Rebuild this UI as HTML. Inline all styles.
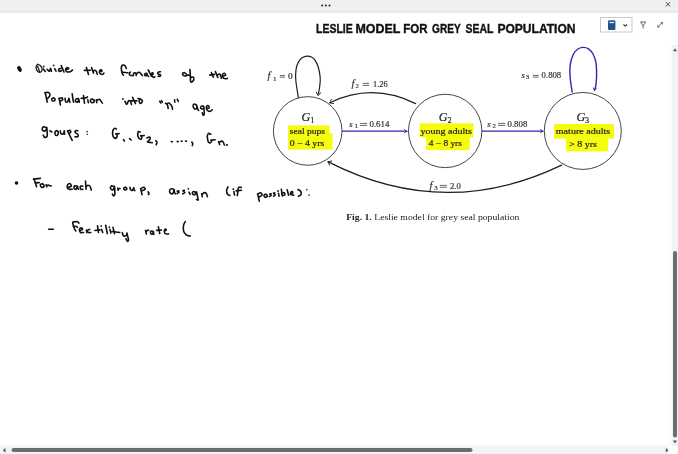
<!DOCTYPE html>
<html><head><meta charset="utf-8">
<style>
html,body{margin:0;padding:0;width:678px;height:454px;overflow:hidden;background:#fff;font-family:"Liberation Sans",sans-serif;}
#top{position:absolute;left:0;top:0;width:678px;height:9px;background:#efefef;}
#top2{position:absolute;left:0;top:9px;width:678px;height:1.2px;background:#f4f4f4;}
#top3{position:absolute;left:0;top:10.2px;width:678px;height:3px;background:linear-gradient(#ededed,#e6e6e6 70%,#f6f6f6);}
svg{position:absolute;left:0;top:0;will-change:transform;}
</style></head>
<body>
<div id="top"></div><div id="top2"></div><div id="top3"></div>
<svg width="678" height="454" viewBox="0 0 678 454">
  <!-- top dots and close -->
  <g fill="#222">
    <circle cx="322.2" cy="5.6" r="1"/><circle cx="325.9" cy="5.6" r="1"/><circle cx="329.5" cy="5.6" r="1"/>
  </g>
  <path d="M665.8,2.2 L670,6.4 M670,2.2 L665.8,6.4" stroke="#444" stroke-width="1" fill="none"/>

  <!-- title -->
<g font-family="Liberation Sans" font-weight="bold" font-size="11.6" fill="#111" stroke="#111" stroke-width="0.35" transform="translate(0,32.8) scale(1,1.14) translate(0,-32.8)"><text x="316.0" y="32.8" textLength="36.7" lengthAdjust="spacingAndGlyphs">LESLIE</text><text x="355.5" y="32.8" textLength="44.9" lengthAdjust="spacingAndGlyphs">MODEL</text><text x="403.2" y="32.8" textLength="24.3" lengthAdjust="spacingAndGlyphs">FOR</text><text x="432.1" y="32.8" textLength="28.5" lengthAdjust="spacingAndGlyphs">GREY</text><text x="465.5" y="32.8" textLength="27.9" lengthAdjust="spacingAndGlyphs">SEAL</text><text x="497.4" y="32.8" textLength="78.1" lengthAdjust="spacingAndGlyphs">POPULATION</text></g>

  <!-- widget -->
  <rect x="600.5" y="17.5" width="31.5" height="14.5" fill="#fff" stroke="#c9c9c9" stroke-width="1"/>
  <rect x="608" y="20.3" width="7.4" height="9.6" rx="1.2" fill="#1f5285"/>
  <rect x="609.3" y="21.8" width="4.8" height="1.4" fill="#cfe3f3"/>
  <path d="M623.5,24.5 L625.3,26.1 L627.1,24.5" stroke="#333" stroke-width="1.15" fill="none"/>
  <!-- funnel -->
  <path d="M640.5,21.9 H645.7 L643.1,26 Z M643.1,26 V28.5" stroke="#6a6a6a" stroke-width="1" fill="none" stroke-linejoin="round"/>
  <!-- expand -->
  <path d="M657.6,27.2 L662.6,22.2" stroke="#777" stroke-width="1"/>
  <path d="M657.3,24.6 L657.3,27.5 L660.2,27.5 Z M660,22 L662.9,22 L662.9,24.9 Z" fill="#777"/>

  <!-- DIAGRAM -->
  <g fill="none" stroke="#444" stroke-width="1">
<circle cx="307.7" cy="130.95" r="34.3"/>
<circle cx="445.2" cy="130.95" r="36.7"/>
<circle cx="582.8" cy="130.95" r="38.5"/>
</g>
<g fill="#f6fc0e">
<rect x="288" y="125.4" width="41.5" height="11.8"/>
<rect x="288" y="133.2" width="44.4" height="16.4"/>
<rect x="419.7" y="123.3" width="53.7" height="14"/>
<rect x="426.2" y="137" width="43.5" height="13.1"/>
<rect x="554" y="123.9" width="60" height="14.8"/>
<rect x="565.9" y="138.5" width="42.3" height="12.9"/>
</g>
<g font-family="Liberation Serif" fill="#222" stroke="#222" stroke-width="0.2">
<text x="301.6" y="121" font-size="12.2" font-style="italic">G</text>
<text x="310.5" y="122.7" font-size="7.6">1</text>
<text x="438.8" y="121" font-size="12.2" font-style="italic">G</text>
<text x="447.7" y="122.7" font-size="7.6">2</text>
<text x="576.4" y="121" font-size="12.2" font-style="italic">G</text>
<text x="585.3" y="122.7" font-size="7.6">3</text>
<text x="289.8" y="133.9" font-size="9" textLength="35.3" lengthAdjust="spacingAndGlyphs">seal pups</text>
<text x="289.8" y="146.2" font-size="9" textLength="34.4" lengthAdjust="spacingAndGlyphs">0 − 4 yrs</text>
<text x="420.5" y="133.9" font-size="9" textLength="51.5" lengthAdjust="spacingAndGlyphs">young adults</text>
<text x="428.8" y="146.4" font-size="9" textLength="33" lengthAdjust="spacingAndGlyphs">4 − 8 yrs</text>
<text x="555.8" y="133.9" font-size="9" textLength="54.5" lengthAdjust="spacingAndGlyphs">mature adults</text>
<text x="569" y="146.6" font-size="9" textLength="28" lengthAdjust="spacingAndGlyphs">&gt; 8 yrs</text>
</g>
<g font-family="Liberation Serif" fill="#333" stroke="#333" stroke-width="0.2">
<text x="267.6" y="79.3" font-size="10.6" font-style="italic">f</text>
<text x="272.9" y="80.6" font-size="6.9">1</text>
<text x="287.9" y="79.3" font-size="8.8" textLength="4.7000000000000455" lengthAdjust="spacingAndGlyphs">0</text>
<text x="351.5" y="86.8" font-size="10.6" font-style="italic">f</text>
<text x="355.6" y="88.1" font-size="6.9">2</text>
<text x="373" y="86.8" font-size="8.8" textLength="14.600000000000023" lengthAdjust="spacingAndGlyphs">1.26</text>
<text x="349.2" y="126.7" font-size="8.8" font-style="italic">s</text>
<text x="354.4" y="128.0" font-size="6.9">1</text>
<text x="369.4" y="126.7" font-size="8.8" textLength="20.100000000000023" lengthAdjust="spacingAndGlyphs">0.614</text>
<text x="487.3" y="126.7" font-size="8.8" font-style="italic">s</text>
<text x="492.5" y="128.0" font-size="6.9">2</text>
<text x="507.5" y="126.7" font-size="8.8" textLength="19.799999999999955" lengthAdjust="spacingAndGlyphs">0.808</text>
<text x="521.5" y="77.8" font-size="8.8" font-style="italic">s</text>
<text x="525.8" y="79.1" font-size="6.9">3</text>
<text x="541.6" y="77.8" font-size="8.8" textLength="19.600000000000023" lengthAdjust="spacingAndGlyphs">0.808</text>
<text x="429.6" y="188.9" font-size="10.6" font-style="italic">f</text>
<text x="434.3" y="190.20000000000002" font-size="6.9">3</text>
<text x="449.9" y="188.9" font-size="8.8" textLength="10.900000000000034" lengthAdjust="spacingAndGlyphs">2.0</text>
</g>
<g stroke="#333" stroke-width="0.75">
<path d="M279.8,75.5H285.0M279.8,77.2H285.0"/>
<path d="M362.8,83.4H369.0M362.8,85.4H369.0"/>
<path d="M360.0,123.4H367.1M360.0,125.4H367.1"/>
<path d="M498.0,123.4H505.1M498.0,125.4H505.1"/>
<path d="M532.8,75.4H538.7M532.8,77.1H538.7"/>
<path d="M439.9,185.4H446.9M439.9,187.3H446.9"/>
</g>
<text x="346.2" y="219.6" font-family="Liberation Serif" font-size="7.8" fill="#222" textLength="173.2" lengthAdjust="spacingAndGlyphs"><tspan font-weight="bold">Fig. 1.</tspan> Leslie model for grey seal population</text>
<g stroke="#3224b4" stroke-width="1.4" fill="none">
<path d="M342,131.15 L404.5,131.15"/>
<path d="M482,131.15 L540.5,131.15"/>
<path d="M572.3,92.6C571.9,90.2 570.6,82.5 570.2,78.0C569.8,73.5 569.6,69.8 570.1,65.8C570.6,61.8 572.0,57.0 573.3,54.2C574.6,51.4 576.4,50.1 578.0,49.0C579.6,47.9 581.4,47.4 583.1,47.4C584.9,47.4 586.9,47.7 588.5,48.8C590.1,49.9 591.8,51.8 593.0,54.0C594.2,56.2 595.3,58.7 595.9,62.3C596.5,65.9 596.6,71.8 596.6,75.4C596.6,79.0 596.2,81.8 596.0,84.0C595.8,86.2 595.3,87.8 595.2,88.5"/>
</g>
<path d="M408.20,131.15L403.80,133.25L404.90,131.15L403.80,129.05Z" fill="#3224b4"/>
<path d="M544.20,131.15L539.80,133.25L540.90,131.15L539.80,129.05Z" fill="#3224b4"/>
<path d="M594.40,91.60L592.65,87.19L594.73,88.47L597.03,87.65Z" fill="#3224b4"/>
<g stroke="#1e1e1e" stroke-width="1.2" fill="none" stroke-linecap="round">
<path d="M415.6,103.6 Q372.5,82.3 330,102.7"/>
<path d="M561.6,165.1 Q444.5,221.3 328.3,161.9"/>
<path d="M298.3,97.3C297.9,94.9 296.6,86.7 296.1,83.0C295.7,79.3 295.5,78.0 295.6,75.3C295.7,72.5 295.9,69.1 296.6,66.5C297.3,63.9 298.8,61.5 299.9,59.9C301.0,58.3 302.2,57.6 303.5,57.0C304.8,56.4 306.3,56.1 307.6,56.1C308.9,56.1 310.3,56.4 311.5,57.0C312.7,57.6 313.5,58.0 314.6,59.6C315.7,61.2 317.2,63.5 318.1,66.5C319.0,69.5 319.9,74.2 320.2,77.5C320.5,80.8 320.0,83.5 319.7,86.3C319.4,89.0 318.6,92.7 318.4,94.0"/>
</g>
<path d="M331.28,99.44Q330.30,101.95 329.60,103.00Q330.86,102.96 333.51,103.46" fill="none" stroke="#1e1e1e" stroke-width="1.0" stroke-linecap="round"/>
<path d="M331.71,161.07Q329.06,161.62 327.80,161.60Q328.52,162.63 329.55,165.13" fill="none" stroke="#1e1e1e" stroke-width="1.0" stroke-linecap="round"/>
<path d="M316.27,92.11Q317.69,94.41 318.10,95.60Q318.83,94.57 320.82,92.75" fill="none" stroke="#1e1e1e" stroke-width="1.0" stroke-linecap="round"/>
  <g fill="none" stroke="#111" stroke-width="1.6" stroke-linecap="round" stroke-linejoin="round">
<path d="M43.4,69.0L45.3,71.5"/>
<path d="M47.2,69.3C47.6,69.6 48.7,71.5 49.3,71.3C49.9,71.1 50.2,68.3 50.6,68.3C51.0,68.3 51.3,70.8 51.4,71.3"/>
<path d="M54.7,68.7L56.0,71.2"/>
<path d="M61.0,68.5C60.7,68.5 59.6,68.3 59.2,68.6C58.8,68.9 58.6,70.0 58.7,70.5C58.8,71.0 59.3,71.4 59.8,71.4C60.3,71.4 61.5,70.7 61.8,70.6"/>
<path d="M61.2,65.5L64.0,72.0"/>
<path d="M66.0,69.3C66.5,69.2 68.5,69.2 68.7,68.9C69.0,68.6 68.0,67.5 67.5,67.5C67.0,67.5 65.7,68.5 65.6,69.2C65.5,69.9 66.0,71.3 66.8,71.7C67.6,72.1 69.2,72.0 70.2,71.7C71.2,71.4 72.1,70.3 72.5,70.0"/>
<path d="M84.3,70.4L90.6,70.2"/>
<path d="M86.4,67.4L88.5,74.5"/>
<path d="M91.6,67.6L93.5,73.1"/>
<path d="M93.3,71.2C93.5,71.0 94.3,70.2 94.8,70.2C95.3,70.2 95.8,70.5 96.2,71.2C96.6,71.9 97.1,73.8 97.3,74.3"/>
<path d="M100.0,71.6C100.3,71.5 101.7,71.5 101.9,71.2C102.1,70.9 101.6,70.0 101.2,69.9C100.8,69.8 99.8,70.2 99.6,70.8C99.4,71.4 99.5,72.9 100.0,73.5C100.5,74.1 102.0,74.4 102.7,74.3C103.4,74.2 103.7,73.3 103.9,73.1"/>
<path d="M126.3,68.4C126.1,68.0 125.5,66.2 125.0,65.7C124.5,65.2 123.6,65.0 123.0,65.1C122.4,65.2 121.8,65.6 121.5,66.5C121.2,67.4 121.3,69.0 121.5,70.3C121.7,71.5 122.2,73.2 122.5,74.0C122.8,74.8 123.2,75.0 123.4,75.2"/>
<path d="M122.1,72.3L127.9,72.7"/>
<path d="M130.4,72.1C130.2,72.3 129.4,72.7 129.3,73.2C129.2,73.7 129.6,74.8 130.0,75.2C130.4,75.6 131.7,75.5 132.0,75.6"/>
<path d="M133.3,75.6C133.4,75.2 133.3,73.9 133.6,73.4C133.8,72.9 134.4,72.7 134.8,72.7C135.2,72.7 135.8,73.1 136.0,73.6C136.2,74.1 136.0,75.6 136.2,75.6C136.4,75.5 136.5,73.8 137.0,73.3C137.5,72.8 138.6,72.2 139.3,72.3C140.0,72.4 140.6,73.5 141.1,74.0C141.6,74.5 142.2,75.3 142.4,75.6"/>
<path d="M146.8,73.3C146.5,73.3 145.4,73.2 145.1,73.5C144.8,73.8 144.6,74.9 144.8,75.3C145.0,75.7 145.8,75.9 146.2,75.7C146.6,75.5 146.9,74.0 147.1,74.0C147.3,74.0 147.3,75.1 147.6,75.5C147.8,75.9 148.4,76.2 148.6,76.4"/>
<path d="M148.2,70.0C148.5,70.5 149.3,72.0 149.8,73.0C150.3,74.0 151.1,75.4 151.3,75.9"/>
<path d="M151.7,74.8C151.9,74.7 152.8,74.5 153.0,74.2C153.2,73.9 153.1,72.9 152.8,72.8C152.6,72.7 151.7,73.0 151.5,73.5C151.3,74.0 151.4,75.1 151.7,75.7C152.0,76.3 153.0,77.1 153.5,77.3C154.0,77.5 154.6,76.9 154.8,76.8"/>
<path d="M160.5,71.7C160.2,71.8 159.3,71.7 158.8,72.0C158.3,72.3 157.7,72.9 157.7,73.3C157.7,73.7 158.3,74.2 158.8,74.4C159.3,74.7 160.3,74.5 160.5,74.8C160.7,75.1 160.5,76.2 160.1,76.4C159.7,76.6 158.4,76.2 158.1,76.2"/>
<path d="M184.5,72.7C184.2,72.8 182.8,72.8 182.6,73.3C182.4,73.8 182.8,75.0 183.3,75.4C183.8,75.8 185.2,76.0 185.8,75.9C186.4,75.8 187.2,75.1 187.0,74.6C186.8,74.1 184.9,73.0 184.5,72.7"/>
<path d="M186.8,75.2L189.9,75.2"/>
<path d="M189.9,69.6C190.0,70.5 190.2,73.0 190.3,75.0C190.4,77.0 190.2,81.0 190.7,81.9C191.2,82.8 192.9,81.3 193.4,80.5C193.9,79.7 194.0,77.8 193.5,77.3C193.0,76.8 190.8,77.5 190.2,77.5"/>
<path d="M209.8,75.1L214.6,74.4"/>
<path d="M211.4,72.6L213.4,77.1"/>
<path d="M215.4,71.6L217.8,77.5"/>
<path d="M217.4,75.1C217.7,74.9 218.9,73.9 219.4,74.0C219.9,74.1 220.3,74.9 220.6,75.6C220.9,76.3 221.3,77.8 221.4,78.3"/>
<path d="M222.6,75.9C223.1,75.8 225.3,75.7 225.6,75.3C225.9,74.9 224.9,73.4 224.4,73.3C223.9,73.2 222.5,74.0 222.3,74.7C222.1,75.5 222.7,77.1 223.2,77.8C223.7,78.5 224.8,78.7 225.5,78.8C226.2,78.9 227.1,78.4 227.4,78.3"/>
<path d="M45.3,93.2C45.5,93.9 46.0,96.1 46.3,97.6C46.6,99.1 47.1,101.4 47.2,102.2"/>
<path d="M44.8,92.7C45.4,92.7 47.7,92.1 48.6,92.5C49.5,92.9 50.1,94.3 50.0,95.3C49.9,96.3 48.1,97.9 47.7,98.4"/>
<path d="M53.5,97.9C53.2,98.0 52.0,98.1 51.8,98.6C51.6,99.0 51.8,100.2 52.2,100.6C52.7,101.0 54.0,101.0 54.5,100.8C55.0,100.5 55.2,99.6 55.0,99.1C54.8,98.6 53.8,98.1 53.5,97.9"/>
<path d="M59.0,98.4C59.1,99.0 59.6,100.7 59.8,101.8C60.0,102.9 60.3,104.5 60.4,105.0"/>
<path d="M59.5,98.6C59.9,98.5 61.5,97.6 62.0,97.8C62.5,98.0 63.0,99.2 62.6,99.8C62.2,100.4 60.4,101.0 59.9,101.2"/>
<path d="M65.1,98.4C65.2,98.9 65.2,100.9 65.6,101.5C66.0,102.1 66.9,102.5 67.4,102.0C68.0,101.5 68.6,98.7 68.9,98.4C69.2,98.2 69.2,99.9 69.4,100.5C69.6,101.1 69.8,101.9 69.9,102.2"/>
<path d="M72.2,93.7C72.3,94.5 72.6,97.1 72.8,98.5C73.0,99.9 73.5,101.6 73.6,102.2"/>
<path d="M78.4,98.6C78.0,98.6 76.7,98.3 76.2,98.8C75.7,99.2 75.3,100.8 75.5,101.3C75.7,101.8 77.0,102.4 77.6,102.0C78.1,101.6 78.5,99.1 78.8,99.1C79.1,99.1 79.2,101.7 79.3,102.2"/>
<path d="M83.5,95.6C83.6,96.2 83.8,98.2 84.0,99.5C84.2,100.8 84.4,102.5 84.5,103.1"/>
<path d="M81.2,98.4L86.4,97.9"/>
<path d="M87.8,99.8L88.3,102.6"/>
<path d="M92.3,99.0C92.0,99.1 90.8,99.3 90.6,99.8C90.4,100.3 90.5,101.8 91.0,102.2C91.5,102.7 92.7,102.7 93.3,102.5C93.9,102.3 94.6,101.4 94.4,100.8C94.2,100.2 92.7,99.3 92.3,99.0"/>
<path d="M96.3,99.8L96.8,102.6"/>
<path d="M97.0,100.3C97.4,100.1 98.7,99.1 99.4,99.3C100.1,99.5 100.5,100.6 101.0,101.2C101.5,101.8 102.2,102.8 102.4,103.1"/>
<path d="M125.0,101.3L126.5,104.4"/>
<path d="M127.5,103.6C127.6,103.2 127.8,101.8 128.1,101.3C128.4,100.8 128.9,100.6 129.3,100.6C129.7,100.6 130.0,100.7 130.4,101.3C130.8,101.9 131.3,103.9 131.5,104.4"/>
<path d="M132.5,97.3C132.8,97.8 133.5,99.5 134.0,100.5C134.5,101.5 135.2,103.1 135.5,103.6"/>
<path d="M131.1,100.9L136.9,100.9"/>
<path d="M138.0,98.6C138.4,98.7 139.7,98.6 140.4,99.0C141.1,99.4 142.3,100.5 142.4,101.2C142.5,101.9 141.3,103.3 140.8,103.4C140.3,103.5 139.4,102.4 139.2,101.8C139.0,101.2 139.5,100.0 139.6,99.6"/>
<path d="M159.6,101.3L160.9,103.0"/>
<path d="M161.4,100.6L162.3,102.2"/>
<path d="M165.5,103.4C165.8,103.6 166.8,103.8 167.2,104.3C167.6,104.8 167.6,105.8 167.8,106.5C168.0,107.2 168.1,108.1 168.2,108.4"/>
<path d="M166.8,103.8C167.1,103.7 168.1,102.8 168.8,103.0C169.5,103.2 170.3,104.0 170.9,104.7C171.5,105.4 171.9,106.2 172.2,107.0C172.5,107.8 172.4,108.8 172.5,109.2"/>
<path d="M174.6,99.7L174.8,102.2"/>
<path d="M177.3,99.3L178.3,101.4"/>
<path d="M195.9,104.6C195.5,104.5 194.1,103.8 193.7,104.2C193.2,104.6 193.0,106.0 193.2,106.8C193.4,107.6 194.1,108.7 194.7,108.9C195.3,109.1 196.5,108.7 196.8,108.1C197.1,107.5 196.5,105.0 196.6,105.1C196.7,105.2 197.2,107.6 197.5,108.5C197.8,109.4 198.4,110.2 198.6,110.5"/>
<path d="M203.4,106.1C203.0,106.1 201.5,105.8 201.1,106.2C200.7,106.6 200.5,108.0 200.8,108.4C201.2,108.8 202.7,108.9 203.2,108.6C203.7,108.3 203.5,106.3 203.7,106.6C203.8,106.9 204.0,109.2 204.1,110.5C204.2,111.8 204.4,113.4 204.2,114.2C204.0,115.0 203.3,115.4 203.0,115.2C202.7,115.0 202.4,113.2 202.3,112.8"/>
<path d="M206.5,108.1C206.9,108.1 208.8,108.5 209.1,108.1C209.4,107.7 209.0,106.2 208.6,105.9C208.2,105.6 207.2,105.5 206.8,106.0C206.5,106.5 206.2,108.2 206.5,109.0C206.8,109.8 207.6,110.8 208.3,111.1C209.0,111.4 210.2,111.3 210.8,111.1C211.5,110.9 212.0,110.1 212.2,109.9"/>
<path d="M46.0,127.6C45.7,127.5 44.8,126.9 44.3,126.9C43.8,126.9 43.0,126.9 42.7,127.4C42.4,127.9 42.0,129.4 42.4,130.0C42.8,130.6 44.1,131.2 44.8,131.1C45.4,131.0 46.0,129.9 46.3,129.3C46.6,128.7 46.7,127.0 46.8,127.4C46.9,127.8 47.0,130.1 47.1,131.5C47.2,132.9 47.4,135.0 47.2,136.0C47.0,137.0 46.3,137.1 45.8,137.3C45.3,137.5 44.7,137.5 44.3,137.1C43.9,136.7 43.4,135.4 43.2,135.1"/>
<path d="M49.9,130.8L51.9,132.0"/>
<path d="M56.7,130.7C56.5,130.8 55.5,130.9 55.2,131.6C55.0,132.2 54.9,133.9 55.2,134.6C55.5,135.2 56.3,135.6 56.8,135.5C57.3,135.4 57.9,134.8 58.1,134.2C58.3,133.5 58.2,132.2 58.0,131.6C57.8,131.0 56.9,130.8 56.7,130.7"/>
<path d="M60.3,130.8C60.3,131.2 60.4,132.4 60.6,132.9C60.8,133.4 61.1,133.8 61.6,134.0C62.1,134.2 63.0,134.3 63.4,133.8C63.8,133.3 64.1,130.9 64.3,130.8C64.5,130.7 64.3,132.4 64.4,133.0C64.5,133.6 64.7,134.1 64.7,134.3"/>
<path d="M67.5,130.8C67.9,131.6 69.0,133.9 69.8,135.5C70.6,137.1 71.8,139.5 72.2,140.3"/>
<path d="M67.9,131.2C68.2,131.0 69.3,130.1 69.8,130.3C70.3,130.5 71.0,131.8 70.8,132.3C70.6,132.8 69.0,133.3 68.7,133.5"/>
<path d="M77.8,130.8C77.4,130.8 76.0,130.4 75.6,130.7C75.2,131.0 74.8,132.0 75.2,132.6C75.6,133.2 77.4,133.7 77.8,134.4C78.2,135.1 78.3,136.3 77.8,136.7C77.3,137.1 75.5,136.7 75.0,136.7"/>
<path d="M116.4,128.9C116.1,128.8 115.1,128.2 114.5,128.4C113.9,128.7 113.2,129.6 112.9,130.4C112.6,131.2 112.6,132.5 112.6,133.5C112.6,134.5 112.6,135.4 113.0,136.2C113.4,137.0 114.2,138.1 114.8,138.3C115.4,138.5 116.2,138.2 116.6,137.5C117.0,136.8 117.2,135.0 117.1,134.4C117.0,133.8 116.2,133.9 116.0,133.8"/>
<path d="M116.0,134.0L119.1,133.6"/>
<path d="M123.5,139.5L124.3,141.1"/>
<path d="M129.5,138.7L131.1,139.9"/>
<path d="M140.2,132.0C139.9,131.9 138.8,131.2 138.4,131.5C138.0,131.8 137.8,133.2 137.7,134.0C137.6,134.8 137.8,135.5 138.0,136.3C138.2,137.1 138.6,138.2 139.2,138.7C139.8,139.1 140.9,139.4 141.3,139.0C141.7,138.6 141.7,136.8 141.8,136.3"/>
<path d="M140.6,135.9L144.2,135.5"/>
<path d="M147.0,137.9C147.4,137.8 148.7,137.1 149.2,137.0C149.7,136.9 150.1,137.1 150.2,137.6C150.3,138.1 150.1,139.1 149.6,139.8C149.1,140.5 147.3,141.5 147.4,141.9C147.5,142.3 149.2,142.3 150.0,142.4C150.8,142.5 151.8,142.6 152.2,142.7"/>
<path d="M155.8,140.7C156.0,140.9 156.9,141.5 157.0,142.2C157.1,142.9 156.3,144.3 156.2,144.7"/>
<path d="M171.3,141.6L172.3,141.7"/>
<path d="M177.2,141.6L178.2,141.6"/>
<path d="M181.2,141.2L182.1,141.1"/>
<path d="M185.5,141.2L186.5,141.1"/>
<path d="M191.8,142.1C192.0,142.3 192.7,143.0 192.8,143.6C192.9,144.2 192.4,145.2 192.3,145.5"/>
<path d="M210.8,134.3C210.4,134.2 209.1,133.2 208.5,133.4C207.9,133.6 207.6,134.8 207.4,135.5C207.2,136.2 207.2,136.7 207.4,137.8C207.6,138.9 207.8,141.1 208.4,141.9C209.0,142.7 210.2,142.9 210.8,142.6C211.4,142.3 211.6,140.6 211.8,140.2"/>
<path d="M210.8,140.2L215.2,139.7"/>
<path d="M218.6,141.6L219.6,144.6"/>
<path d="M219.5,142.2C219.9,142.0 221.1,141.0 221.8,141.1C222.5,141.2 223.1,141.9 223.5,142.6C223.9,143.2 224.2,144.6 224.4,145.0"/>
<path d="M33.5,179.1L40.4,178.4"/>
<path d="M34.1,179.1C34.3,179.8 35.0,181.7 35.4,183.0C35.8,184.3 36.4,186.1 36.6,186.7"/>
<path d="M35.4,182.9L39.2,182.6"/>
<path d="M42.3,183.6C42.0,183.7 40.7,183.9 40.5,184.4C40.3,184.9 40.5,186.3 41.0,186.8C41.5,187.3 42.8,187.4 43.3,187.2C43.8,187.0 44.2,186.0 44.0,185.4C43.8,184.8 42.6,183.9 42.3,183.6"/>
<path d="M46.1,184.8L46.8,186.7"/>
<path d="M46.5,185.6C46.8,185.5 48.0,185.1 48.5,185.1C49.0,185.1 49.1,185.5 49.6,185.7C50.1,185.8 50.9,185.9 51.2,186.0"/>
<path d="M68.3,187.3C68.8,187.1 71.0,186.8 71.3,186.2C71.5,185.6 70.4,183.8 69.8,183.6C69.2,183.4 67.8,184.3 67.4,185.1C67.1,185.9 67.3,187.7 67.7,188.4C68.1,189.1 69.2,189.3 70.0,189.4C70.8,189.5 71.8,189.2 72.2,189.2"/>
<path d="M77.2,186.1C76.8,186.1 75.1,185.5 74.6,185.8C74.1,186.2 73.8,187.6 74.0,188.2C74.2,188.8 75.4,189.6 76.0,189.3C76.6,189.0 77.2,186.3 77.5,186.2C77.8,186.0 77.6,187.9 77.8,188.4C78.0,188.9 78.4,189.1 78.5,189.2"/>
<path d="M82.9,186.2C82.6,186.2 81.2,185.7 80.8,186.0C80.3,186.3 80.1,187.4 80.2,188.0C80.3,188.6 80.8,189.2 81.3,189.4C81.8,189.6 82.6,189.2 82.9,189.2"/>
<path d="M85.5,181.0C85.5,181.7 85.7,183.6 85.8,185.0C85.9,186.4 86.0,188.5 86.1,189.2"/>
<path d="M86.1,186.7C86.4,186.5 87.5,185.3 88.2,185.3C88.9,185.3 89.7,185.8 90.2,186.6C90.7,187.4 91.0,189.3 91.2,189.9"/>
<path d="M113.4,186.3C113.1,186.2 112.0,185.5 111.5,185.8C111.0,186.2 110.2,187.7 110.4,188.4C110.6,189.1 112.3,190.2 112.9,190.0C113.5,189.8 113.8,188.0 114.1,187.4C114.4,186.8 114.4,186.1 114.5,186.6C114.6,187.1 114.8,189.2 114.8,190.5C114.8,191.8 115.0,193.7 114.8,194.6C114.6,195.5 113.8,196.0 113.4,195.9C113.0,195.8 112.6,194.3 112.4,194.0"/>
<path d="M117.8,188.1L118.2,190.3"/>
<path d="M118.2,188.8L120.0,188.5"/>
<path d="M125.5,187.1C125.2,187.2 124.2,187.4 124.0,187.8C123.8,188.2 123.8,189.2 124.1,189.6C124.4,190.0 125.1,190.1 125.6,190.0C126.1,189.9 126.9,189.3 126.9,188.8C126.9,188.3 125.7,187.4 125.5,187.1"/>
<path d="M130.0,187.4C130.1,187.8 130.1,189.1 130.5,189.6C130.9,190.1 132.0,190.6 132.5,190.3C133.0,190.0 133.4,187.8 133.7,187.7C134.0,187.6 133.9,189.1 134.1,189.6C134.3,190.1 134.7,190.5 134.8,190.7"/>
<path d="M140.7,188.8C140.8,189.3 141.2,190.8 141.4,191.8C141.6,192.8 142.0,194.2 142.1,194.7"/>
<path d="M141.3,188.3C141.7,188.1 143.3,187.1 143.9,187.3C144.5,187.5 145.4,188.7 145.1,189.3C144.8,189.9 142.6,190.5 142.1,190.7"/>
<path d="M148.0,191.8C148.2,192.1 149.0,192.8 149.1,193.3C149.2,193.8 148.5,194.4 148.4,194.6"/>
<path d="M173.5,189.2C173.1,189.1 171.7,188.5 171.0,188.9C170.3,189.3 169.5,190.7 169.5,191.5C169.5,192.3 170.6,193.4 171.2,193.7C171.8,194.0 172.5,194.0 173.0,193.3C173.5,192.7 173.8,190.0 174.1,189.8C174.3,189.6 174.3,191.6 174.5,192.3C174.7,193.0 175.1,193.6 175.2,193.8"/>
<path d="M178.7,190.9C178.4,190.9 177.1,190.9 177.2,191.1C177.3,191.3 179.1,191.9 179.1,192.3C179.1,192.7 177.3,193.4 177.0,193.6"/>
<path d="M184.4,190.3C184.2,190.4 182.8,190.3 182.9,190.7C183.0,191.0 184.9,191.9 184.9,192.4C184.9,192.9 183.1,193.6 182.7,193.8"/>
<path d="M189.0,192.1L190.2,194.4"/>
<path d="M195.3,192.1C194.9,192.0 193.6,191.3 193.1,191.6C192.6,191.9 192.3,193.2 192.5,193.8C192.7,194.4 193.8,195.2 194.4,195.0C195.0,194.8 195.8,192.9 196.2,192.4C196.5,191.9 196.3,191.5 196.5,192.1C196.7,192.7 197.1,194.7 197.4,196.0C197.7,197.3 198.3,199.3 198.2,199.9C198.0,200.5 196.8,199.6 196.5,199.5"/>
<path d="M201.7,193.8L202.2,196.7"/>
<path d="M202.2,194.4C202.5,194.1 203.6,192.7 204.3,192.6C205.0,192.5 205.9,192.9 206.4,193.6C206.9,194.3 207.2,196.2 207.4,196.7"/>
<path d="M228.1,186.9C227.8,187.5 226.7,189.1 226.6,190.3C226.5,191.5 227.0,193.3 227.6,194.2C228.2,195.1 229.5,195.3 229.9,195.5"/>
<path d="M233.9,191.5L234.5,194.9"/>
<path d="M241.4,187.5C241.1,187.4 239.9,186.8 239.3,187.1C238.8,187.3 238.4,188.1 238.1,189.0C237.8,189.9 237.8,191.4 237.7,192.5C237.6,193.6 237.4,195.0 237.3,195.5"/>
<path d="M236.2,190.9L241.4,190.3"/>
<path d="M257.9,194.7C258.0,195.2 258.4,196.9 258.6,198.0C258.8,199.1 259.2,200.6 259.3,201.1"/>
<path d="M257.5,194.2C258.0,194.0 259.8,192.6 260.5,192.8C261.2,193.0 262.3,194.5 262.0,195.2C261.7,195.9 259.4,196.7 258.9,197.0"/>
<path d="M265.7,194.1C265.4,194.2 264.4,194.4 264.2,194.9C264.0,195.4 264.2,196.6 264.6,196.9C265.0,197.2 266.1,197.2 266.5,197.0C266.9,196.8 267.4,196.0 267.3,195.5C267.2,195.0 266.0,194.3 265.7,194.1"/>
<path d="M271.2,193.8C271.0,193.8 269.8,193.6 269.8,193.9C269.8,194.2 271.3,195.0 271.2,195.4C271.1,195.8 269.7,196.3 269.4,196.5"/>
<path d="M274.9,192.9C274.7,193.0 273.4,192.9 273.5,193.3C273.6,193.7 275.3,194.6 275.3,195.1C275.3,195.6 273.8,195.9 273.5,196.1"/>
<path d="M278.5,193.3L279.0,196.1"/>
<path d="M281.3,189.2C281.4,189.8 281.7,191.5 281.8,192.6C281.9,193.7 282.1,195.1 282.2,195.6"/>
<path d="M282.2,193.3C282.5,193.2 283.8,192.4 284.2,192.7C284.6,193.0 285.2,194.4 284.9,194.9C284.6,195.4 283.0,195.5 282.6,195.6"/>
<path d="M287.2,189.7C287.3,190.2 287.7,191.7 287.9,192.6C288.1,193.5 288.5,194.7 288.6,195.1"/>
<path d="M291.3,193.8C291.6,193.7 292.7,193.3 292.8,192.9C292.9,192.5 292.5,191.6 292.1,191.5C291.7,191.4 290.8,192.0 290.6,192.5C290.4,193.0 290.4,194.3 290.9,194.7C291.4,195.1 293.2,195.0 293.6,195.1"/>
<path d="M298.0,189.5C298.3,189.7 299.4,190.0 300.0,190.6C300.6,191.2 301.2,192.1 301.3,192.9C301.4,193.7 300.9,194.7 300.4,195.3C299.9,195.9 298.7,196.1 298.4,196.3"/>
<path d="M48.6,229.3L53.3,229.3"/>
<path d="M78.9,223.2C78.7,222.9 78.1,221.9 77.4,221.7C76.7,221.5 75.3,221.7 74.5,221.8C73.7,221.9 72.9,221.7 72.7,222.4C72.5,223.1 73.2,224.9 73.5,226.0C73.8,227.1 74.2,228.2 74.6,229.0C75.0,229.8 75.6,230.7 75.8,231.0"/>
<path d="M73.4,226.5C73.8,226.5 75.3,226.2 76.0,226.3C76.7,226.5 77.2,227.2 77.4,227.4"/>
<path d="M80.5,230.5C80.8,230.3 82.3,229.8 82.5,229.4C82.7,229.0 82.0,227.9 81.5,227.9C81.0,227.9 79.6,228.6 79.4,229.4C79.2,230.2 79.8,232.0 80.5,232.5C81.2,233.0 83.1,232.5 83.6,232.5"/>
<path d="M86.4,230.0L86.8,232.6"/>
<path d="M89.7,229.4C89.4,229.5 88.0,229.7 87.7,230.2C87.5,230.7 87.7,232.1 88.2,232.5C88.7,232.9 90.4,232.5 90.8,232.5"/>
<path d="M94.9,230.5L100.1,229.9"/>
<path d="M97.5,225.8C97.6,226.3 97.8,227.9 98.0,229.0C98.2,230.1 98.4,231.9 98.5,232.5"/>
<path d="M101.6,229.4L102.7,232.5"/>
<path d="M105.7,225.3C105.8,226.0 106.2,228.1 106.5,229.5C106.8,230.9 107.2,232.9 107.3,233.6"/>
<path d="M109.9,229.4L110.9,233.0"/>
<path d="M113.0,227.4C113.1,227.9 113.5,229.5 113.8,230.5C114.0,231.5 114.4,233.1 114.5,233.6"/>
<path d="M111.9,231.5C112.6,231.6 114.7,231.8 116.0,232.0C117.3,232.2 119.1,232.4 119.7,232.5"/>
<path d="M122.3,232.5C122.5,233.0 122.8,234.9 123.2,235.5C123.6,236.1 124.0,236.1 124.5,236.1C125.0,236.1 126.0,236.1 126.4,235.6C126.8,235.1 126.7,232.9 126.9,233.0C127.1,233.1 127.3,234.9 127.6,236.0C127.9,237.1 128.5,238.8 128.5,239.7C128.5,240.6 127.8,241.5 127.4,241.3C127.0,241.1 126.2,239.1 125.9,238.7"/>
<path d="M145.5,230.4L146.4,233.9"/>
<path d="M146.0,231.3L148.6,230.0"/>
<path d="M153.0,231.3C152.7,231.3 151.3,230.9 150.9,231.2C150.5,231.5 150.4,232.8 150.6,233.3C150.8,233.8 151.7,234.4 152.2,234.1C152.7,233.8 153.2,231.7 153.4,231.6C153.6,231.5 153.4,233.0 153.5,233.5C153.6,234.0 153.8,234.2 153.9,234.4"/>
<path d="M158.4,226.8C158.5,227.4 158.9,229.2 159.1,230.3C159.3,231.4 159.6,233.0 159.7,233.5"/>
<path d="M156.6,230.4L161.5,230.0"/>
<path d="M165.0,230.8C165.2,230.7 166.2,230.3 166.3,230.0C166.4,229.7 165.7,229.0 165.4,229.1C165.1,229.2 164.5,229.7 164.4,230.4C164.3,231.1 164.5,232.5 164.8,233.1C165.2,233.7 165.9,233.9 166.5,234.0C167.1,234.1 168.2,233.9 168.5,233.9"/>
<path d="M185.3,221.5C185.0,222.1 183.9,223.5 183.6,225.1C183.3,226.7 183.1,229.2 183.5,230.8C183.9,232.4 185.1,233.9 186.2,234.8C187.3,235.7 189.5,235.9 190.2,236.1"/>
</g><g fill="none" stroke="#111" stroke-width="1.3" stroke-linecap="round" stroke-linejoin="round">
<path d="M37.5,64.2C37.3,64.6 36.4,65.7 36.2,66.5C36.0,67.3 36.1,68.4 36.4,69.2C36.7,70.0 37.2,70.9 37.8,71.4C38.4,71.9 39.2,72.5 39.9,72.4C40.5,72.3 41.3,71.6 41.7,71.0C42.1,70.4 42.2,69.5 42.1,68.8C42.0,68.1 41.6,67.2 41.2,66.6C40.8,66.0 40.5,65.7 39.9,65.3C39.3,64.9 37.9,64.4 37.5,64.2"/>
<path d="M37.7,66.4L39.6,71.6"/>
</g><g fill="#111">
<ellipse cx="19.5" cy="69" rx="2" ry="3.1" transform="rotate(-25 19.5 69)"/>
<circle cx="43.7" cy="66.5" r="0.9"/>
<circle cx="53.6" cy="65.4" r="0.9"/>
<circle cx="87.3" cy="97" r="0.9"/>
<circle cx="122.9" cy="99" r="0.9"/>
<circle cx="87" cy="131.6" r="0.8"/>
<circle cx="87.4" cy="134.3" r="0.8"/>
<circle cx="226.9" cy="145" r="1.1"/>
<circle cx="16.5" cy="183" r="1.8"/>
<circle cx="188.4" cy="188.8" r="0.9"/>
<circle cx="233.3" cy="189.2" r="0.9"/>
<circle cx="278" cy="191" r="0.9"/>
<circle cx="306.8" cy="189.8" r="0.8"/>
<circle cx="309.1" cy="195.1" r="0.8"/>
<circle cx="101.1" cy="225.9" r="0.9"/>
<circle cx="109.4" cy="227.2" r="0.9"/>
</g>
  <!-- scrollbars -->
  <rect x="668" y="47" width="4" height="399" fill="#fbfbfb"/>
  <rect x="672" y="45" width="6" height="401" fill="#f3f3f3"/>
  <rect x="672" y="40.5" width="6" height="1" fill="#f6f6f6"/>
  <path d="M673,51.2 L675,48.3 L677,51.2 Z" fill="#555"/>
  <rect x="673" y="251" width="4" height="186.5" rx="2" fill="#6e6e6e"/>
  <path d="M673,440.6 L675,443.4 L677,440.6 Z" fill="#555"/>
  <rect x="0" y="445.5" width="668" height="8.5" fill="#f3f3f3"/>
  <path d="M5.5,448 L2.8,450.2 L5.5,452.4 Z" fill="#555"/>
  <rect x="11.5" y="448" width="461" height="4" rx="2" fill="#6e6e6e"/>
  <path d="M665.8,448 L668.5,450.2 L665.8,452.4 Z" fill="#555"/>
</svg>
</body></html>
